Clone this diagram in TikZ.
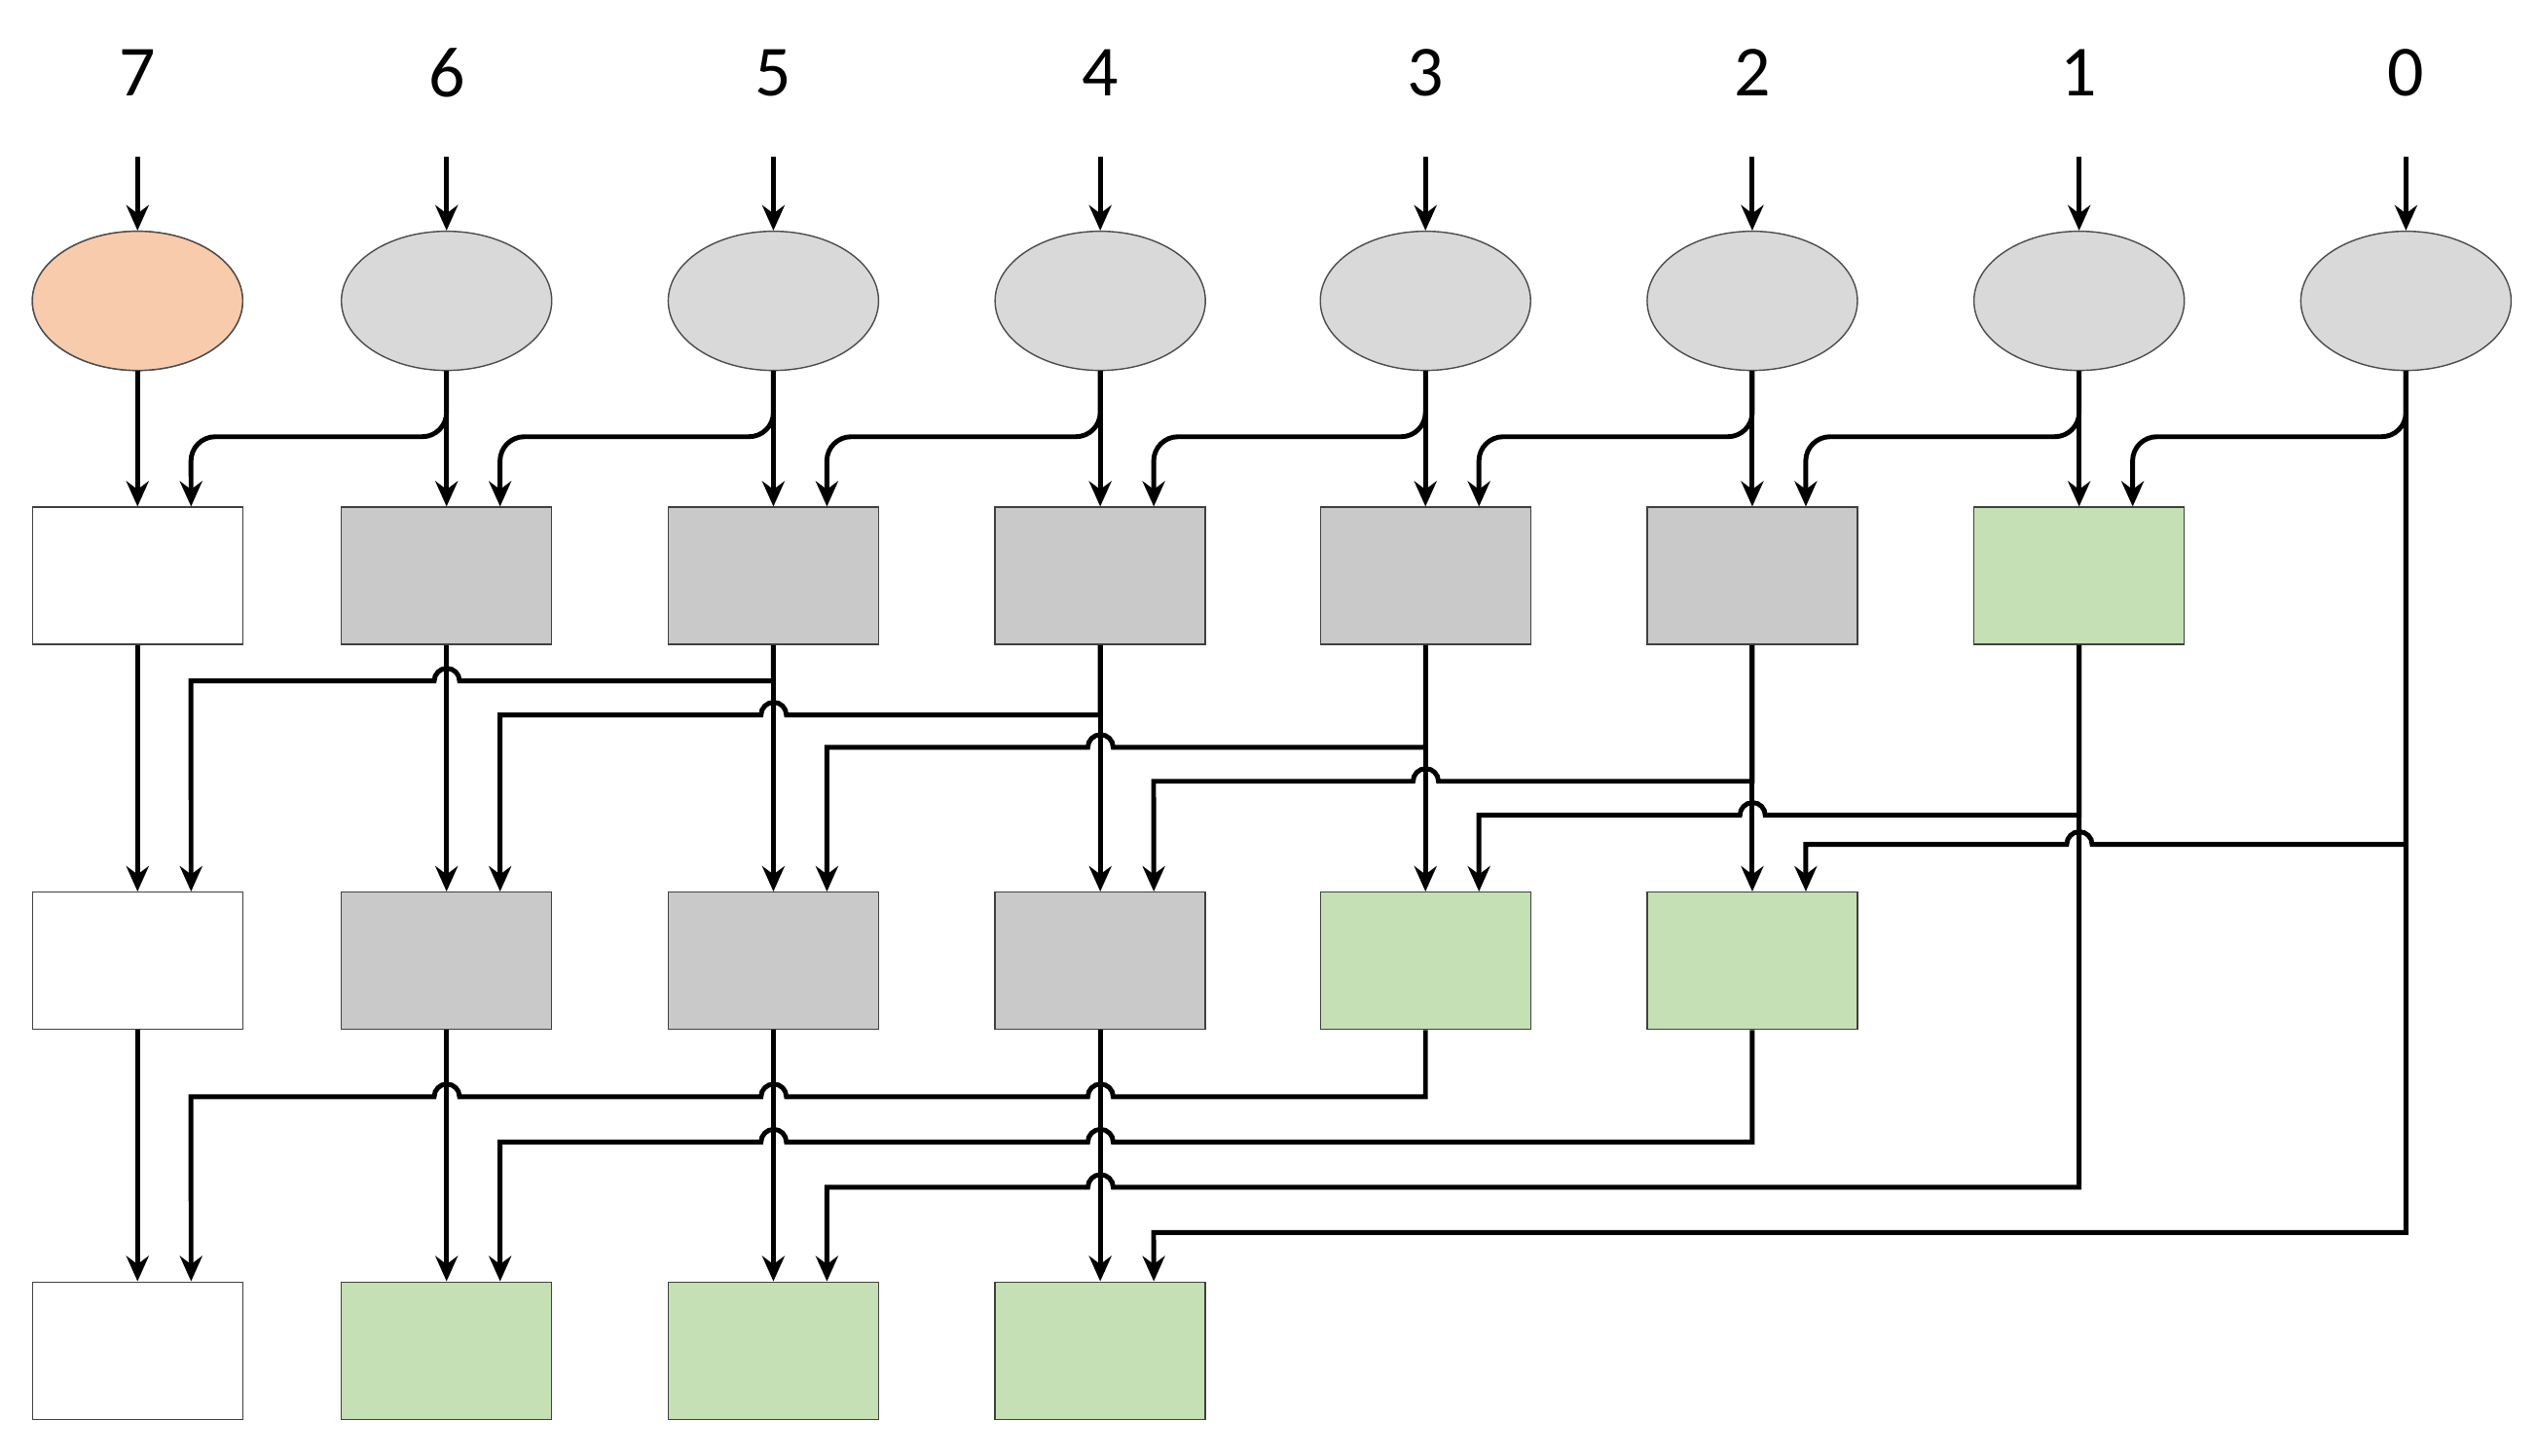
\documentclass[tikz,border=0pt]{standalone}
\usepackage{fontspec}
\setmainfont{Carlito}
\usetikzlibrary{arrows.meta, positioning, shapes.geometric, calc}

\definecolor{bitgray}{HTML}{D9D9D9}
\definecolor{bitorange}{HTML}{F8CBAD}
\definecolor{cellgray}{HTML}{C9C9C9}
\definecolor{cellgreen}{HTML}{C5E0B4}

\tikzset{
  lbl/.style={font=\fontsize{21}{25}\selectfont},
  bit/.style={ellipse, draw=black!70, fill=bitgray, minimum width=2.16cm, minimum height=1.43cm, inner sep=0pt},
  cell/.style={draw=black!75, fill=cellgray, minimum width=2.16cm, minimum height=1.41cm, inner sep=0pt},
  wire/.style={line width=1.4pt, -{Stealth[length=2.6mm,width=2.3mm]}},
}
\newcommand\hop[2]{-- (#1+8,#2) arc[start angle=0,end angle=180,radius=0.13cm]}

\begin{document}
\begin{tikzpicture}[x=0.01662cm,y=0.01662cm]
  \useasboundingbox (0,0) rectangle (1568,-900);

  % --- Inputs ---
  \foreach \n/\x in {7/85,6/276,5/478,4/680,3/881,2/1083,1/1285,0/1487} {
    \node[lbl] (l\n) at (\x,-45) {\n};
    \node[bit] (e\n) at (\x,-186) {};
    \draw[wire] (\x,-97) -- (e\n.north);
  }
  \node[bit, fill=bitorange] at (e7) {};

  % --- Cells ---
  \foreach \n/\x/\c in {7/85/white,6/276/cellgray,5/478/cellgray,4/680/cellgray,3/881/cellgray,2/1083/cellgray,1/1285/cellgreen}
    \node[cell, fill=\c] (a\n) at (\x,-356) {};
  \foreach \n/\x/\c in {7/85/white,6/276/cellgray,5/478/cellgray,4/680/cellgray,3/881/cellgreen,2/1083/cellgreen}
    \node[cell, fill=\c] (b\n) at (\x,-594) {};
  \foreach \n/\x/\c in {7/85/white,6/276/cellgreen,5/478/cellgreen,4/680/cellgreen}
    \node[cell, fill=\c] (c\n) at (\x,-835) {};

  % --- Straight wires ---
  \foreach \n in {7,...,1}
    \draw[wire] (e\n.south) -- (a\n.north);
  \foreach \n in {7,...,2}
    \draw[wire] (a\n.south) -- (b\n.north);
  \foreach \n in {7,...,4}
    \draw[wire] (b\n.south) -- (c\n.north);

  % --- Branches into row 1 ---
  \foreach \n/\x/\m/\xm in {6/276/7/85,5/478/6/276,4/680/5/478,3/881/4/680,2/1083/3/881,1/1285/2/1083,0/1487/1/1285}
    \draw[wire, rounded corners=0.25cm] (e\n.south) -- (\x,-270) -- (\xm+33,-270) -- ([xshift=0.55cm]a\m.north);

  % --- Shifted wires into row 2 ---
  \foreach \s/\sx/\y/\d/\dx/\h in {a5/478/421/b7/118/276,a4/680/442/b6/309/478,a3/881/462/b5/511/680,a2/1083/483/b4/713/881,a1/1285/504/b3/914/1083,e0/1487/522/b2/1116/1285}
    \draw[wire] (\s.south) -- (\sx,-\y) \hop{\h}{-\y} -- (\dx,-\y) -- ([xshift=0.55cm]\d.north);

  % --- Shifted wires into row 3 ---
  \draw[wire] (b3.south) -- (881,-678) \hop{680}{-678} \hop{478}{-678} \hop{276}{-678} -- (118,-678) -- ([xshift=0.55cm]c7.north);
  \draw[wire] (b2.south) -- (1083,-706) \hop{680}{-706} \hop{478}{-706} -- (309,-706) -- ([xshift=0.55cm]c6.north);
  \draw[wire] (a1.south) -- (1285,-734) \hop{680}{-734} -- (511,-734) -- ([xshift=0.55cm]c5.north);
  \draw[wire] (e0.south) -- (1487,-762) -- (713,-762) -- ([xshift=0.55cm]c4.north);

\end{tikzpicture}
\end{document}
